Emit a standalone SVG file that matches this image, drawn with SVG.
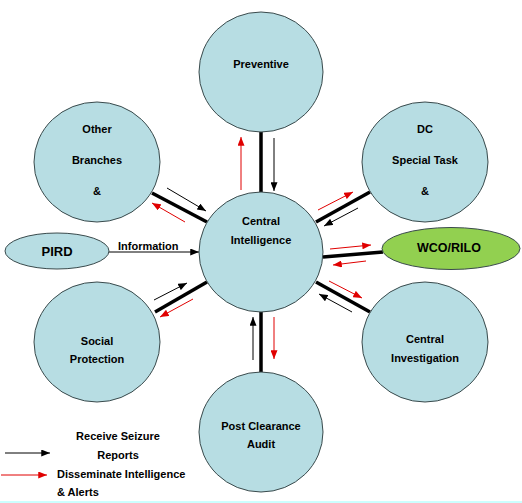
<svg xmlns="http://www.w3.org/2000/svg" width="522" height="503" viewBox="0 0 522 503">
<style>
.node{fill:#b7dde3;stroke:#3a4a4c;stroke-width:1}
.green{fill:#92d050;stroke:#3a4a4c;stroke-width:1}
.t{font-family:"Liberation Sans",Arial,sans-serif;font-weight:bold;font-size:11px;fill:#000;text-anchor:middle}
.tl{font-family:"Liberation Sans",Arial,sans-serif;font-weight:bold;font-size:11px;fill:#000}
.thick{stroke:#000;stroke-width:3.5;fill:none}
.blk{stroke:#000;stroke-width:1;fill:none;marker-end:url(#ab)}
.red{stroke:#e00000;stroke-width:1;fill:none;marker-end:url(#ar)}
</style>
<defs>
<marker id="ab" viewBox="0 0 10 8" refX="10" refY="4" markerWidth="9" markerHeight="7" markerUnits="userSpaceOnUse" orient="auto"><path d="M0,0 L10,4 L0,8 z" fill="#000"/></marker>
<marker id="ar" viewBox="0 0 10 8" refX="10" refY="4" markerWidth="9" markerHeight="7" markerUnits="userSpaceOnUse" orient="auto"><path d="M0,0 L10,4 L0,8 z" fill="#e00000"/></marker>
</defs>
<rect x="0" y="0" width="522" height="503" fill="#fff"/>
<rect x="0" y="501" width="522" height="2" fill="#ccffff"/>
<g id="connectors">
<line class="thick" x1="261" y1="132" x2="261" y2="192"/>
<line class="thick" x1="152" y1="193" x2="207" y2="222"/>
<line class="thick" x1="370" y1="192" x2="316" y2="222"/>
<line class="thick" x1="323" y1="257" x2="383" y2="252"/>
<line class="thick" x1="316" y1="282" x2="370" y2="312"/>
<line class="thick" x1="155" y1="312" x2="207" y2="282"/>
<line class="thick" x1="261" y1="312" x2="261" y2="372"/>
<line class="blk" x1="108" y1="252" x2="199" y2="252"/>
<line class="red" x1="241" y1="190" x2="241" y2="137"/>
<line class="blk" x1="274" y1="138" x2="274" y2="191"/>
<line class="blk" x1="167" y1="188" x2="206" y2="211"/>
<line class="red" x1="185" y1="222" x2="152" y2="203"/>
<line class="red" x1="318" y1="210" x2="353" y2="192"/>
<line class="blk" x1="358" y1="208" x2="324" y2="226"/>
<line class="red" x1="330" y1="249" x2="371" y2="245"/>
<line class="red" x1="366" y1="261" x2="333" y2="265"/>
<line class="red" x1="329" y1="281" x2="362" y2="298"/>
<line class="blk" x1="352" y1="312" x2="319" y2="294"/>
<line class="blk" x1="154" y1="300" x2="187" y2="283"/>
<line class="red" x1="193" y1="299" x2="160" y2="317"/>
<line class="blk" x1="253" y1="360" x2="253" y2="317"/>
<line class="red" x1="274" y1="317" x2="274" y2="359"/>
<text class="tl" x="118" y="250">Information</text>
</g>
<g id="central"><ellipse class="node" cx="261" cy="252" rx="62" ry="60"/><text class="t" x="261" y="225">Central</text><text class="t" x="261" y="244">Intelligence</text></g>
<g id="preventive"><ellipse class="node" cx="261" cy="72" rx="62" ry="60"/><text class="t" x="261" y="68">Preventive</text></g>
<g id="other"><ellipse class="node" cx="97" cy="162" rx="63" ry="60"/><text class="t" x="97" y="133">Other</text><text class="t" x="97" y="164">Branches</text><text class="t" x="97" y="195">&amp;</text></g>
<g id="dc"><ellipse class="node" cx="425" cy="162" rx="63" ry="60"/><text class="t" x="425" y="133">DC</text><text class="t" x="425" y="164">Special Task</text><text class="t" x="425" y="195">&amp;</text></g>
<g id="pird"><ellipse class="node" cx="57" cy="251" rx="52" ry="18"/><text class="t" x="57" y="256" style="font-size:13px">PIRD</text></g>
<g id="wco"><ellipse class="green" cx="451" cy="248.5" rx="69" ry="21"/><text class="t" x="449" y="252" style="font-size:12.5px">WCO/RILO</text></g>
<g id="social"><ellipse class="node" cx="97" cy="342" rx="63" ry="60"/><text class="t" x="97" y="345">Social</text><text class="t" x="97" y="363">Protection</text></g>
<g id="investigation"><ellipse class="node" cx="425" cy="342" rx="63" ry="60"/><text class="t" x="425" y="343">Central</text><text class="t" x="425" y="362">Investigation</text></g>
<g id="pca"><ellipse class="node" cx="261" cy="432" rx="62" ry="60"/><text class="t" x="261" y="430">Post Clearance</text><text class="t" x="261" y="448">Audit</text></g>
<g id="legend">
<line class="blk" x1="5" y1="453" x2="50" y2="453"/>
<line class="red" x1="1" y1="475" x2="47" y2="475"/>
<text class="t" x="118" y="440">Receive Seizure</text>
<text class="t" x="118" y="459">Reports</text>
<text class="tl" x="57" y="478">Disseminate Intelligence</text>
<text class="tl" x="57" y="496">&amp; Alerts</text>
</g>
</svg>
